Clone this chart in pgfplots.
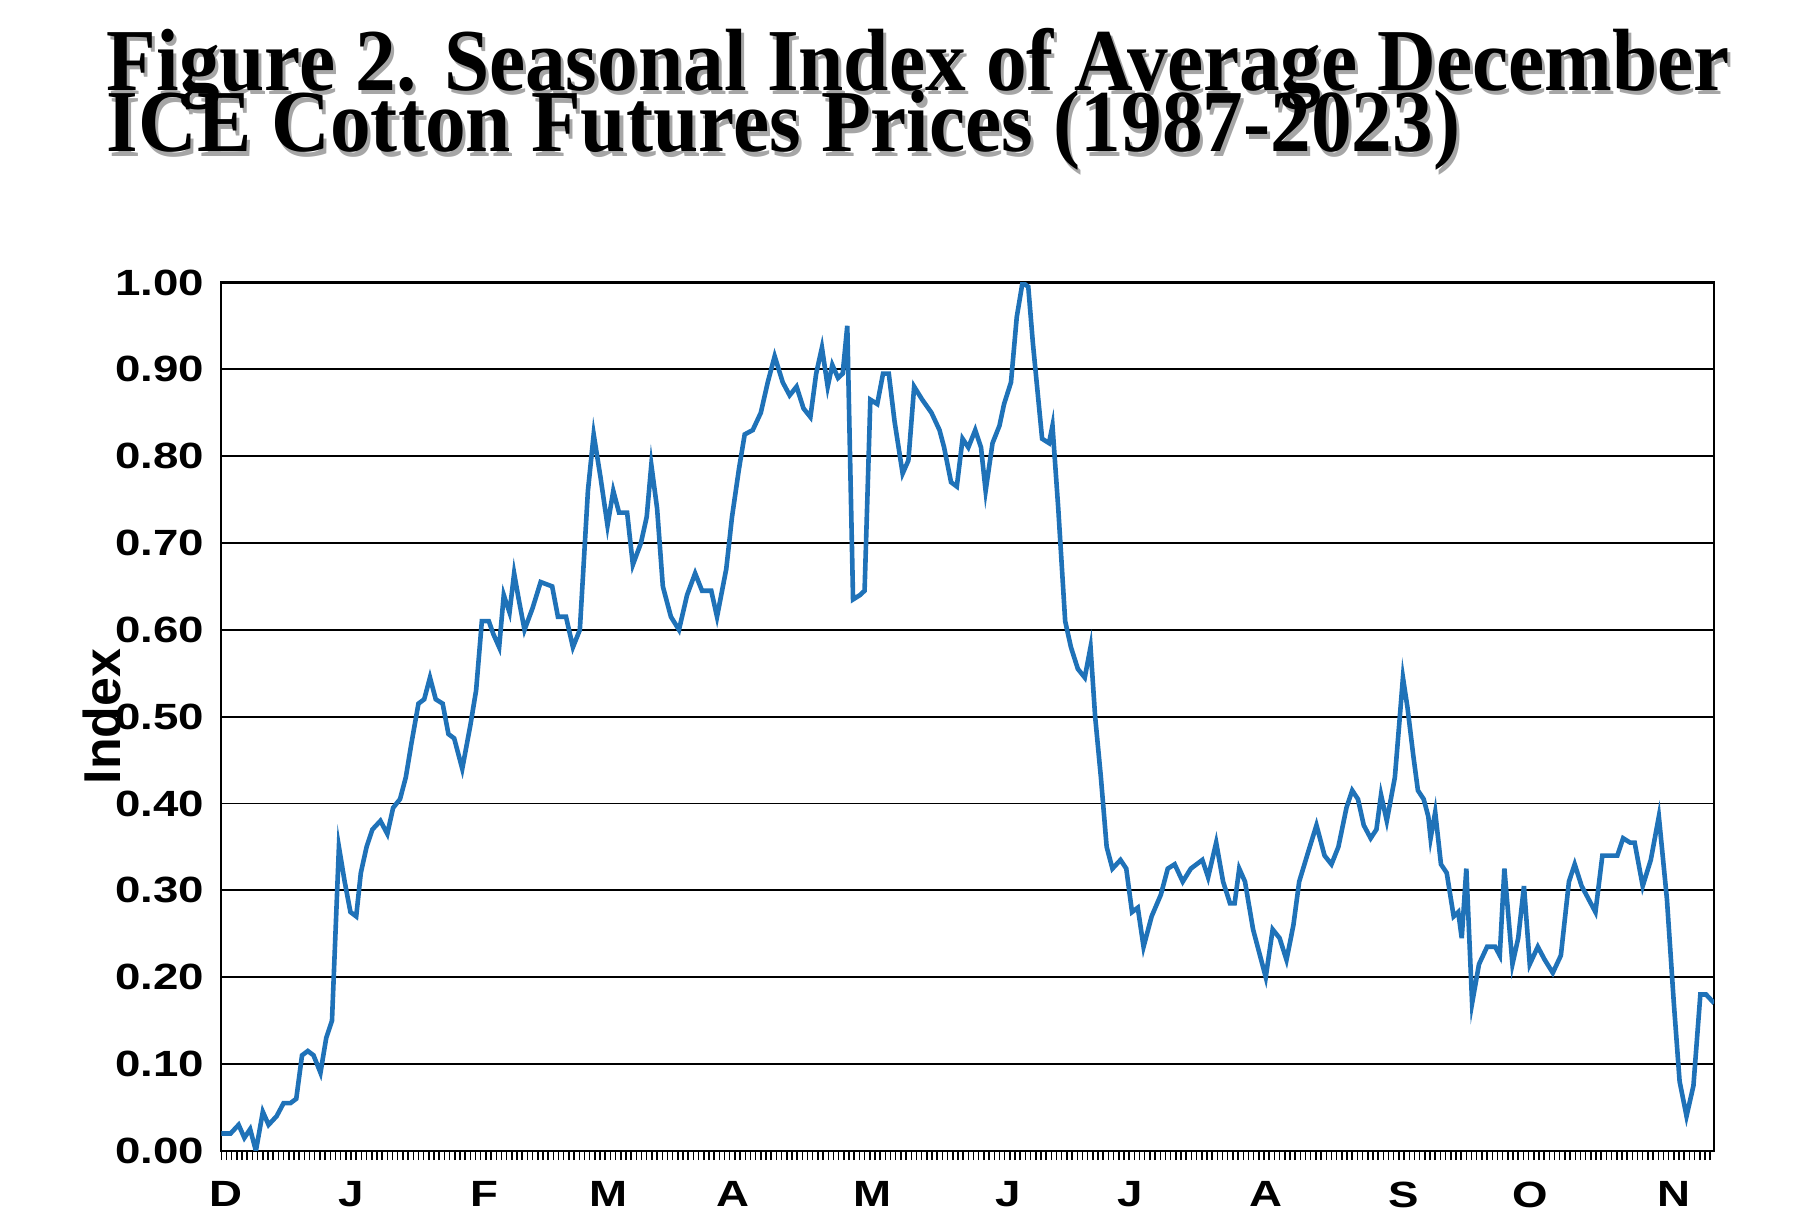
\documentclass[border=0pt]{standalone}
\usepackage{pgfplots}
\pgfplotsset{compat=1.18}
\usepackage{fontspec}
\setmainfont{Liberation Sans}
\newfontfamily\titlefont{Liberation Serif}
\definecolor{lineblue}{RGB}{31,114,184}
\begin{document}
\begin{tikzpicture}
\begin{axis}[
  scale only axis, width=388.5pt, height=226pt,
  xmin=192, xmax=1487, ymin=0, ymax=1,
  ytick={0,0.1,...,1.0},
  yticklabel style={/pgf/number format/.cd,fixed,fixed zerofill,precision=2},
  /pgf/number format/assume math mode=true,
  ticklabel style={font=\fontsize{9.5}{11}\selectfont\bfseries, xscale=1.25},
  ymajorgrids, grid style={black, line width=0.5pt},
  axis line style={black, line width=0.6pt},
  xtick={196,305,420,528,636,757,875,980,1098,1218,1327,1452},
  xticklabels={D,J,F,M,A,M,J,J,A,S,O,N},
  xticklabel style={yshift=-4.5pt},
  minor xtick={192,196.5,...,1487},
  x tick style={draw=none},
  minor x tick style={draw=black, line width=0.4pt},
  minor tick length=2.4pt,
  tick align=outside, xtick pos=bottom, ytick pos=left,
  major tick length=0pt,
  ylabel={\fontsize{13.5}{15}\selectfont\bfseries Index},
  ylabel shift=-9pt,
]
\addplot[lineblue, line width=1.2pt] coordinates {
(192,0.02)(200,0.02)(207,0.03)(212,0.015)(217,0.025)(222,0.00)(228,0.045)(233,0.03)(240,0.04)(246,0.055)(252,0.055)(257,0.06)(262,0.11)(267,0.115)(272,0.11)(278,0.09)(283,0.13)(288,0.15)(294,0.35)(299,0.31)(304,0.275)(309,0.27)(313,0.32)(318,0.35)(323,0.37)(330,0.38)(336,0.365)(341,0.395)(347,0.405)(352,0.43)(357,0.47)(363,0.515)(368,0.52)(373,0.545)(378,0.52)(384,0.515)(389,0.48)(394,0.475)(401,0.44)(408,0.49)(413,0.53)(418,0.61)(424,0.61)(428,0.595)(433,0.58)(437,0.64)(442,0.62)(446,0.665)(450,0.635)(455,0.60)(462,0.625)(469,0.655)(479,0.65)(484,0.615)(491,0.615)(497,0.58)(503,0.60)(510,0.76)(515,0.825)(521,0.775)(527,0.72)(532,0.76)(537,0.735)(544,0.735)(549,0.675)(556,0.70)(561,0.73)(565,0.79)(570,0.74)(575,0.65)(582,0.615)(589,0.60)(596,0.64)(603,0.665)(609,0.645)(617,0.645)(622,0.615)(630,0.67)(635,0.73)(641,0.785)(646,0.825)(653,0.83)(660,0.85)(666,0.885)(672,0.915)(679,0.885)(685,0.87)(691,0.88)(697,0.855)(703,0.845)(708,0.895)(713,0.925)(718,0.88)(722,0.905)(727,0.89)(731,0.895)(735,0.95)(740,0.635)(746,0.64)(750,0.645)(755,0.865)(761,0.86)(766,0.895)(771,0.895)(776,0.84)(783,0.78)(788,0.795)(793,0.88)(800,0.865)(808,0.85)(815,0.83)(819,0.81)(825,0.77)(830,0.765)(835,0.82)(840,0.81)(846,0.83)(851,0.81)(855,0.76)(861,0.815)(867,0.835)(871,0.86)(877,0.885)(882,0.96)(887,1.0)(892,0.995)(896,0.93)(904,0.82)(910,0.815)(913,0.835)(918,0.74)(924,0.61)(929,0.58)(935,0.555)(941,0.545)(946,0.58)(950,0.5)(955,0.43)(960,0.35)(965,0.325)(972,0.335)(977,0.325)(982,0.275)(987,0.28)(992,0.235)(999,0.27)(1007,0.295)(1013,0.325)(1019,0.33)(1026,0.31)(1033,0.325)(1043,0.335)(1048,0.315)(1055,0.355)(1061,0.31)(1067,0.285)(1071,0.285)(1075,0.325)(1080,0.31)(1087,0.255)(1098,0.2)(1104,0.255)(1110,0.245)(1116,0.22)(1122,0.26)(1127,0.31)(1135,0.345)(1142,0.375)(1149,0.34)(1155,0.33)(1161,0.35)(1168,0.395)(1173,0.415)(1178,0.405)(1183,0.375)(1189,0.36)(1194,0.37)(1198,0.41)(1203,0.38)(1210,0.43)(1214,0.495)(1217,0.545)(1221,0.51)(1226,0.455)(1230,0.415)(1235,0.405)(1239,0.385)(1241,0.36)(1245,0.39)(1250,0.33)(1255,0.32)(1261,0.27)(1265,0.275)(1268,0.245)(1272,0.325)(1277,0.17)(1283,0.215)(1290,0.235)(1297,0.235)(1301,0.225)(1305,0.325)(1312,0.215)(1317,0.245)(1322,0.305)(1327,0.215)(1334,0.235)(1340,0.22)(1347,0.205)(1354,0.225)(1361,0.31)(1366,0.33)(1372,0.305)(1378,0.29)(1384,0.275)(1390,0.34)(1396,0.34)(1403,0.34)(1408,0.36)(1414,0.355)(1418,0.355)(1425,0.305)(1432,0.335)(1439,0.385)(1446,0.29)(1452,0.17)(1457,0.08)(1463,0.04)(1469,0.075)(1475,0.18)(1480,0.18)(1487,0.17)
};
\end{axis}
\begin{scope}[every node/.style={anchor=base west, inner sep=0pt, xscale=0.92, font=\titlefont\fontsize{23}{26}\selectfont\bfseries}]
\node[gray!70] at (-29.2pt,274.8pt) {Figure 2. Seasonal Index of Average December};
\node[gray!70] at (-29.2pt,258.8pt) {ICE Cotton Futures Prices (1987-2023)};
\node at (-30pt,276pt) {Figure 2. Seasonal Index of Average December};
\node at (-30pt,260pt) {ICE Cotton Futures Prices (1987-2023)};
\end{scope}
\pgfresetboundingbox
\path (-57.6pt,-17.1pt) rectangle (412.4pt,299.5pt);
\end{tikzpicture}
\end{document}
